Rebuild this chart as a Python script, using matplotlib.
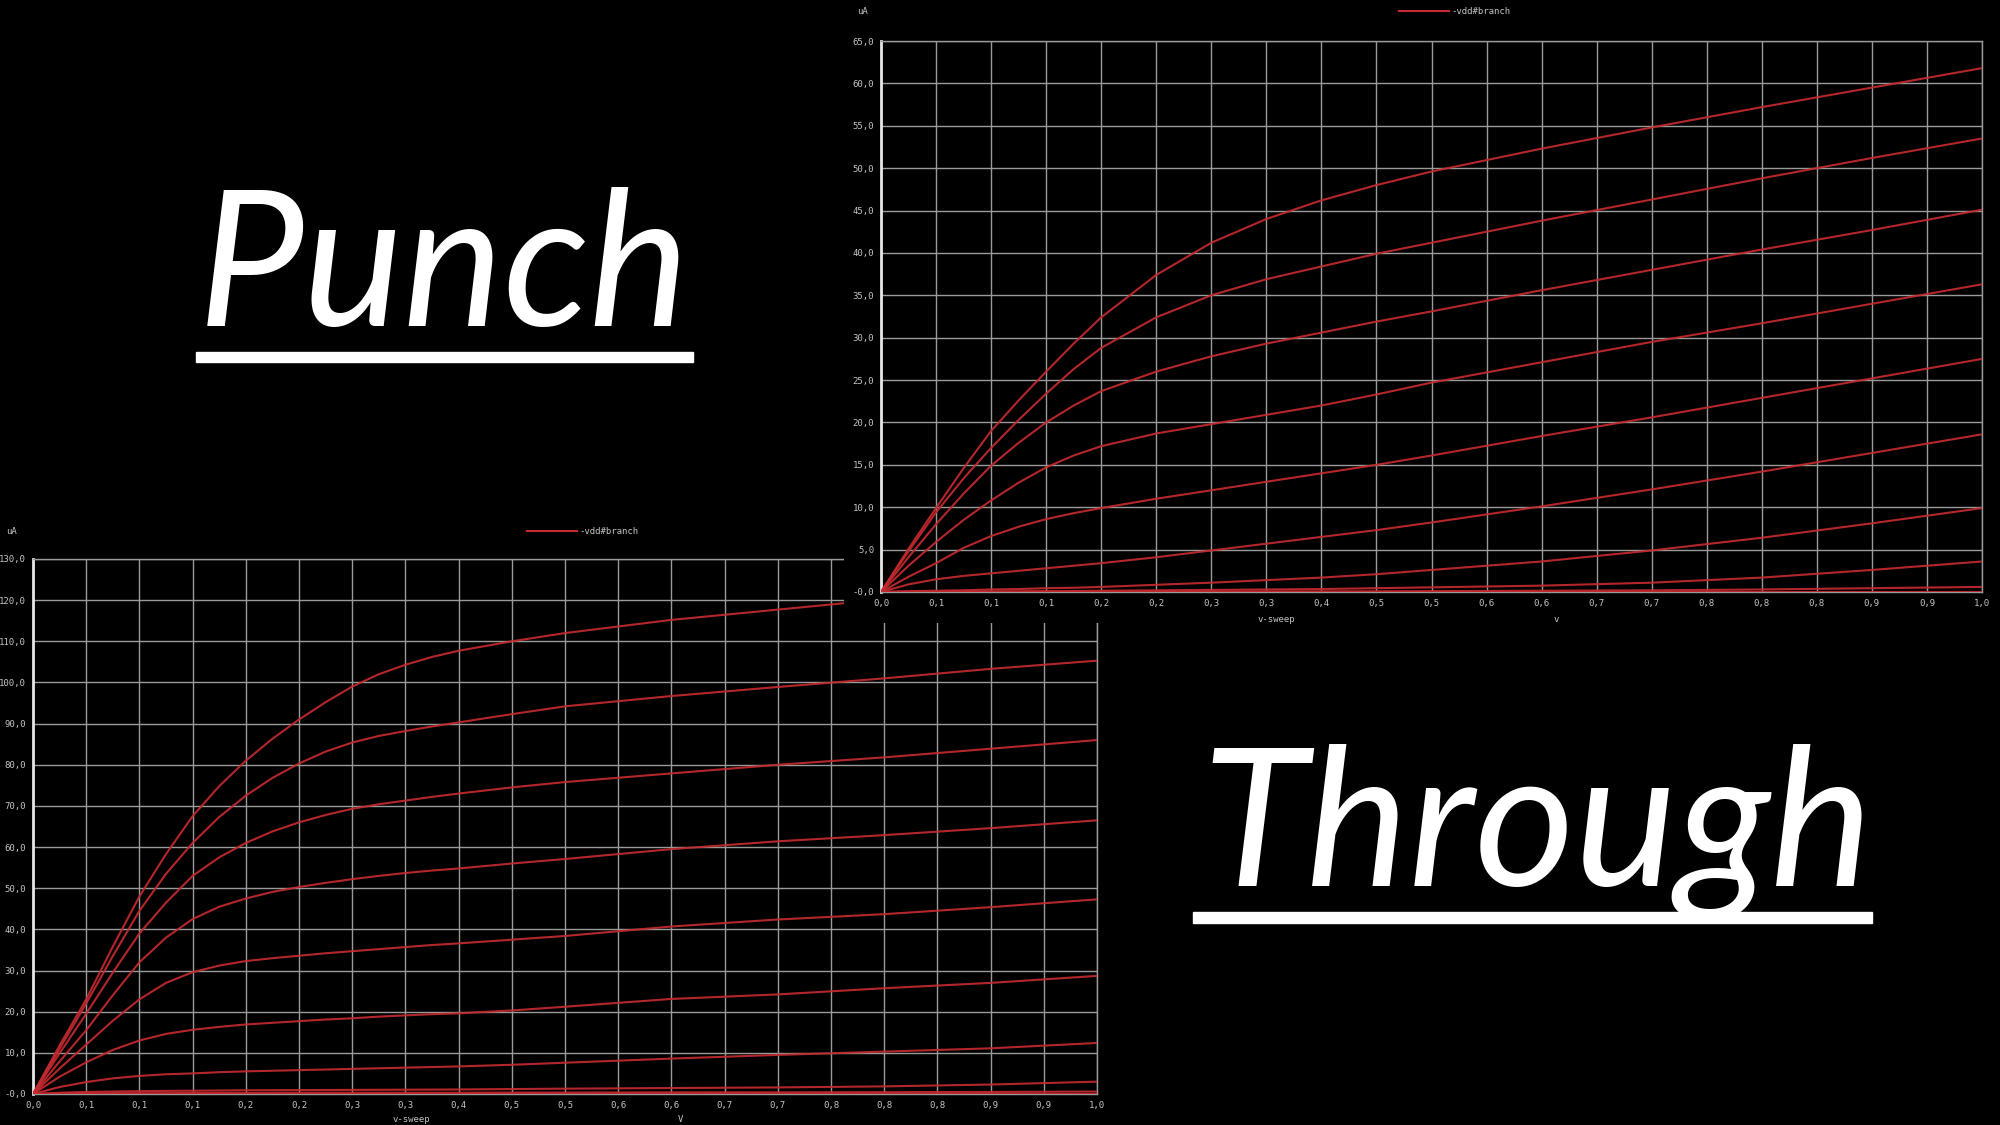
import numpy as np
import matplotlib
matplotlib.use("Agg")
import matplotlib.pyplot as plt
from matplotlib.lines import Line2D
from matplotlib.patches import Rectangle

# ---------------- data ----------------
x_tick_labels = ['0,0', '0,1', '0,1', '0,1', '0,2', '0,2', '0,3', '0,3', '0,4', '0,5', '0,5',
                 '0,6', '0,6', '0,7', '0,7', '0,8', '0,8', '0,8', '0,9', '0,9', '1,0']

# bottom-left plot (uA, 0..130)
bl_x = [0, 0.025, 0.05, 0.075, 0.1, 0.125, 0.15, 0.175, 0.2, 0.225, 0.25, 0.275, 0.3, 0.325,
        0.35, 0.375, 0.4, 0.45, 0.5, 0.6, 0.7, 0.8, 0.9, 1.0]
bl_c1 = [0, 11.8, 23, 35.8, 48, 58.3, 67.5, 74.8, 81, 86.3, 91, 95.2, 99, 102, 104.3, 106.2,
         107.7, 110, 112, 115.2, 117.7, 120.2, 122.5, 124.7]
bl_c2 = [0, 11, 22, 33.5, 44.5, 53.5, 61, 67.3, 72.5, 76.8, 80.3, 83.2, 85.4, 87, 88.2, 89.3,
         90.3, 92.3, 94.2, 96.7, 98.9, 101, 103.3, 105.3]
bl_c3 = [0, 9.9, 19.5, 29.5, 39, 46.5, 53, 57.5, 61, 63.8, 66, 67.8, 69.3, 70.4, 71.3, 72.2,
         73, 74.5, 75.8, 77.9, 80, 81.8, 83.9, 86]
bl_c4 = [0, 7.9, 15.5, 24, 32, 38, 42.5, 45.5, 47.5, 49.1, 50.3, 51.3, 52.2, 53, 53.7, 54.3,
         54.8, 56, 57.1, 59.5, 61.4, 62.9, 64.6, 66.5]
bl_c5 = [0, 6.2, 12, 17.8, 23, 27, 29.6, 31.2, 32.3, 33, 33.6, 34.2, 34.7, 35.2, 35.7, 36.2,
         36.6, 37.5, 38.4, 40.7, 42.4, 43.7, 45.4, 47.3]
bl_c6 = [0, 4.2, 7.7, 10.7, 13, 14.6, 15.6, 16.3, 16.9, 17.3, 17.7, 18.1, 18.4, 18.8, 19.1,
         19.4, 19.6, 20.3, 21.2, 23.1, 24.2, 25.7, 27, 28.7]
bl_c7 = [0, 1.7, 2.9, 3.8, 4.4, 4.8, 5.0, 5.3, 5.5, 5.65, 5.8, 5.95, 6.1, 6.25, 6.4, 6.55,
         6.7, 7.1, 7.6, 8.6, 9.5, 10.3, 11.1, 12.4]
bl_c8 = [0, 0.3, 0.5, 0.6, 0.7, 0.75, 0.8, 0.85, 0.9, 0.92, 0.95, 0.97, 1.0, 1.02, 1.05, 1.07,
         1.1, 1.2, 1.3, 1.45, 1.6, 1.85, 2.3, 3.0]
bl_c9 = [0, 0.1, 0.15, 0.2, 0.2, 0.2, 0.25, 0.25, 0.25, 0.27, 0.3, 0.3, 0.3, 0.3, 0.3, 0.3,
         0.3, 0.35, 0.35, 0.4, 0.4, 0.45, 0.5, 0.6]
bl_c10 = [0] * 24
bl_y_labels = ['-0,0', '10,0', '20,0', '30,0', '40,0', '50,0', '60,0', '70,0', '80,0', '90,0',
               '100,0', '110,0', '120,0', '130,0']

# top-right plot (uA, 0..65)
tr_x = [0, 0.025, 0.05, 0.075, 0.1, 0.125, 0.15, 0.175, 0.2, 0.25, 0.3, 0.35, 0.4, 0.45, 0.5,
        0.6, 0.7, 0.8, 0.9, 1.0]
tr_c1 = [0, 5.1, 9.9, 14.6, 19, 22.6, 26, 29.3, 32.4, 37.4, 41.2, 44, 46.2, 48, 49.6, 52.3,
         54.8, 57.2, 59.5, 61.8]
tr_c2 = [0, 4.8, 9.4, 13.4, 17, 20.3, 23.4, 26.3, 28.8, 32.4, 35, 36.9, 38.4, 39.9, 41.2, 43.8,
         46.3, 48.8, 51.2, 53.5]
tr_c3 = [0, 4.1, 8, 11.6, 14.9, 17.6, 20, 22, 23.7, 26, 27.8, 29.3, 30.6, 31.9, 33.1, 35.6,
         38, 40.4, 42.7, 45.1]
tr_c4 = [0, 3.1, 5.9, 8.5, 10.8, 12.9, 14.7, 16.1, 17.2, 18.7, 19.8, 20.9, 22, 23.3, 24.7, 27.1,
         29.5, 31.7, 34, 36.3]
tr_c5 = [0, 1.8, 3.4, 5.2, 6.6, 7.7, 8.6, 9.3, 9.9, 11, 12, 13, 14, 15, 16.1, 18.4, 20.6, 22.9,
         25.2, 27.5]
tr_c6 = [0, 0.9, 1.5, 1.9, 2.2, 2.5, 2.8, 3.1, 3.4, 4.1, 4.9, 5.7, 6.5, 7.3, 8.2, 10.1, 12.1,
         14.2, 16.4, 18.6]
tr_c7 = [0, 0.1, 0.15, 0.2, 0.3, 0.35, 0.45, 0.5, 0.6, 0.85, 1.1, 1.4, 1.7, 2.1, 2.6, 3.6, 4.9,
         6.4, 8.1, 9.9]
tr_c8 = [0, 0.02, 0.05, 0.06, 0.07, 0.08, 0.1, 0.12, 0.15, 0.2, 0.25, 0.3, 0.35, 0.45, 0.55,
         0.75, 1.1, 1.7, 2.6, 3.6]
tr_c9 = [0, 0, 0, 0, 0.01, 0.01, 0.02, 0.02, 0.03, 0.04, 0.05, 0.06, 0.07, 0.08, 0.1, 0.15, 0.2,
         0.3, 0.45, 0.6]
tr_c10 = [0] * 20
tr_y_labels = ['-0,0', '5,0', '10,0', '15,0', '20,0', '25,0', '30,0', '35,0', '40,0', '45,0',
               '50,0', '55,0', '60,0', '65,0']

legend_label = '-vdd#branch'
y_unit = 'uA'
x_name = 'v-sweep'
x_unit = 'V'
x_unit_top = 'v'
title_1 = 'Punch'
title_2 = 'Through'

# ---------------- styling ----------------
W, H = 2000, 1125
BG = 'black'
GRID = '#9a9a9a'
TXT = '#c4c4c4'
RED = '#c42a2f'
MONO = 'DejaVu Sans Mono'


def rect(left, top, right, bottom):
    return [left / W, 1 - bottom / H, (right - left) / W, (bottom - top) / H]


fig = plt.figure(figsize=(20, 11.25), dpi=100, facecolor=BG)


def style_axes(ax, ymax, ystep, ylabels):
    ax.set_facecolor(BG)
    ax.set_xlim(0, 1)
    ax.set_ylim(0, ymax)
    ax.set_xticks(np.linspace(0, 1, 21))
    ax.set_xticklabels(x_tick_labels)
    ax.set_yticks(np.arange(0, ymax + ystep / 2, ystep))
    ax.set_yticklabels(ylabels)
    ax.grid(True, color=GRID, lw=1.0, zorder=0)
    ax.set_axisbelow(True)
    ax.tick_params(length=0, colors=TXT, labelsize=6.5, pad=5)
    for lab in ax.get_xticklabels() + ax.get_yticklabels():
        lab.set_family(MONO)
    for s in ['top', 'right', 'bottom']:
        ax.spines[s].set_color(GRID)
        ax.spines[s].set_linewidth(1.0)
    ax.spines['left'].set_color('#e6e6e6')
    ax.spines['left'].set_linewidth(2.0)


def draw_curves(ax, xs, curves):
    for c in curves:
        ax.plot(xs, c, color=RED, lw=1.5, alpha=0.92, solid_joinstyle='round',
                solid_capstyle='round', zorder=3)


# bottom-left plot
ax1 = fig.add_axes(rect(33, 559, 1097, 1094), zorder=0)
style_axes(ax1, 130, 10, bl_y_labels)
draw_curves(ax1, bl_x, [bl_c10, bl_c9, bl_c8, bl_c7, bl_c6, bl_c5, bl_c4, bl_c3, bl_c2, bl_c1])
ax1.legend([Line2D([0], [0], color=RED, lw=1.5)], [legend_label], loc='center left',
           bbox_to_anchor=((527 - 33) / 1064, 1 + (559 - 532) / 535), frameon=False,
           handlelength=5.5, handletextpad=0.3, borderpad=0, borderaxespad=0,
           prop={'family': MONO, 'size': 6.5}, labelcolor=TXT)
ax1.text(-27 / 1064, 1 + (559 - 532) / 535, y_unit, transform=ax1.transAxes, color=TXT,
         fontsize=6.5, family=MONO, ha='left', va='center')
ax1.text((411 - 33) / 1064, -(1120 - 1094) / 535, x_name, transform=ax1.transAxes, color=TXT,
         fontsize=6.5, family=MONO, ha='center', va='center')
ax1.text((680 - 33) / 1064, -(1120 - 1094) / 535, x_unit, transform=ax1.transAxes, color=TXT,
         fontsize=6.5, family=MONO, ha='center', va='center')

# cover (the top-right screenshot sits on top of the bottom-left one)
axc = fig.add_axes(rect(844, 0, 2000, 623), zorder=1)
axc.set_facecolor(BG)
axc.set_xticks([])
axc.set_yticks([])
for s in axc.spines.values():
    s.set_visible(False)

# top-right plot
ax2 = fig.add_axes(rect(881, 41, 1982, 592), zorder=2)
style_axes(ax2, 65, 5, tr_y_labels)
draw_curves(ax2, tr_x, [tr_c10, tr_c9, tr_c8, tr_c7, tr_c6, tr_c5, tr_c4, tr_c3, tr_c2, tr_c1])
ax2.legend([Line2D([0], [0], color=RED, lw=1.5)], [legend_label], loc='center left',
           bbox_to_anchor=((1399 - 881) / 1101, 1 + (41 - 11.5) / 551), frameon=False,
           handlelength=5.5, handletextpad=0.3, borderpad=0, borderaxespad=0,
           prop={'family': MONO, 'size': 6.5}, labelcolor=TXT)
ax2.text((857 - 881) / 1101, 1 + (41 - 11) / 551, y_unit, transform=ax2.transAxes, color=TXT,
         fontsize=6.5, family=MONO, ha='left', va='center')
ax2.text((1276 - 881) / 1101, -(619 - 592) / 551, x_name, transform=ax2.transAxes, color=TXT,
         fontsize=6.5, family=MONO, ha='center', va='center')
ax2.text((1556 - 881) / 1101, -(619 - 592) / 551, x_unit_top, transform=ax2.transAxes, color=TXT,
         fontsize=6.5, family=MONO, ha='center', va='center')

# big titles with underlines
fig.text(444 / W, 1 - 326 / H, title_1, color='white', fontsize=136, family='Lato',
         style='italic', ha='center', va='baseline', zorder=5)
fig.add_artist(Rectangle((196 / W, 1 - 362 / H), (693 - 196) / W, 10 / H,
                         transform=fig.transFigure, color='white', zorder=5))
fig.text(1537 / W, 1 - 886 / H, title_2, color='white', fontsize=139, family='Lato',
         style='italic', ha='center', va='baseline', zorder=5)
fig.add_artist(Rectangle((1193 / W, 1 - 923 / H), (1872 - 1193) / W, 11 / H,
                         transform=fig.transFigure, color='white', zorder=5))

fig.savefig('out.png', dpi=100, facecolor=BG)
